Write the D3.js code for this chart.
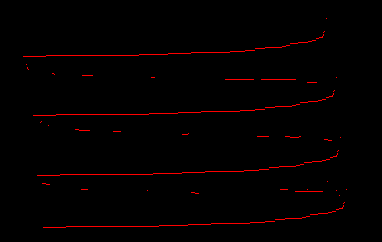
<!doctype html>
<html lang="en">
<head>
    <meta charset="utf-8">
    <title>Sorted values, four panels</title>
    <script src="https://cdnjs.cloudflare.com/ajax/libs/d3/7.8.5/d3.min.js" type="text/JavaScript"></script>
    <style>
        html, body { margin: 0; padding: 0; background: #000; }
        svg { display: block; }
    </style>
</head>
<body>
<script>

    // sorted curve: [rank where the value starts, value]
    const curveSteps = [[0, 0], [23, 1], [116, 2], [145, 3], [168, 4], [207, 5], [222, 6], [232, 8],
        [242, 9], [259, 10], [263, 11], [267, 13], [275, 14], [285, 15], [289, 16], [293, 18], [296, 19]];
    const curveEnd = 300;
    // the last few values jump, drawn as loose points
    const tailPoints = [[299, 20], [300, 21], [300, 22], [300, 24], [301, 25], [303, 38]];

    // scattered runs for each panel: [from rank, to rank, value]
    const panel1Runs = [];
    const panel2Runs = [[-7, -7, 51], [-6, -6, 48], [-6, -6, 47], [-5, -5, 46], [19, 20, 42], [21, 21, 41],
        [49, 59, 40], [118, 121, 38], [192, 220, 36], [228, 262, 36], [274, 283, 33]];
    const panel3Runs = [[3, 3, 53], [4, 4, 54], [11, 11, 50], [38, 41, 46], [42, 52, 45], [76, 83, 44],
        [145, 150, 41], [151, 151, 42], [220, 231, 39], [248, 252, 39], [253, 261, 38], [262, 263, 39],
        [287, 290, 36], [291, 294, 35]];
    const panel4Runs = [[-1, 2, 44], [3, 6, 43], [38, 44, 38], [104, 104, 37], [148, 151, 35], [152, 155, 34],
        [237, 244, 38], [252, 279, 36], [264, 264, 38], [284, 284, 46], [293, 293, 37], [296, 296, 32]];

    const width = 382, height = 242;
    const red = "#ff0000";

    // where each panel's origin sits (left of the curve, its baseline row)
    const panels = [
        {ox: 23, oy: 56, runs: panel1Runs},
        {ox: 33, oy: 115, runs: panel2Runs},
        {ox: 37, oy: 175, runs: panel3Runs},
        {ox: 43, oy: 227, runs: panel4Runs}
    ];

    const svg = d3.select("body").append("svg")
        .attr("width", width)
        .attr("height", height)
        .attr("shape-rendering", "crispEdges");

    svg.append("rect")
        .attr("width", width)
        .attr("height", height)
        .attr("fill", "#000");

    panels.forEach(p => {
        const x = d3.scaleLinear().domain([0, 303]).range([p.ox, p.ox + 303]);
        const y = d3.scaleLinear().domain([0, 40]).range([p.oy, p.oy - 40]);

        const g = svg.append("g");

        // steps of the sorted curve
        const steps = curveSteps.map((d, i) => ({
            from: d[0],
            to: i < curveSteps.length - 1 ? curveSteps[i + 1][0] : curveEnd,
            v: d[1]
        }));

        g.selectAll("rect.step")
            .data(steps)
            .join("rect")
            .attr("class", "step")
            .attr("x", d => x(d.from))
            .attr("y", d => y(d.v))
            .attr("width", d => x(d.to) - x(d.from))
            .attr("height", 1)
            .attr("fill", red);

        g.selectAll("rect.tail")
            .data(tailPoints)
            .join("rect")
            .attr("class", "tail")
            .attr("x", d => x(d[0]))
            .attr("y", d => y(d[1]))
            .attr("width", 1)
            .attr("height", 1)
            .attr("fill", red);

        g.selectAll("rect.run")
            .data(p.runs)
            .join("rect")
            .attr("class", "run")
            .attr("x", d => x(d[0]))
            .attr("y", d => y(d[2]))
            .attr("width", d => x(d[1]) - x(d[0]) + 1)
            .attr("height", 1)
            .attr("fill", red);
    });

</script>
</body>
</html>
